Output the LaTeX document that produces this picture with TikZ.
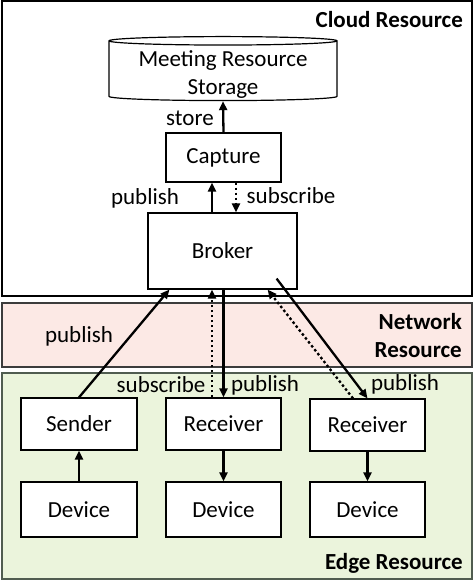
\documentclass[tikz,border=0pt]{standalone}
\usepackage{fontspec}
\setmainfont{Carlito}
\usetikzlibrary{shapes.geometric,arrows.meta,calc}

\tikzset{
  box/.style={draw, line width=1.2pt, fill=white, inner sep=0pt},
  flow/.style={line width=2.3pt, -{Triangle[length=9pt,width=8pt]}},
  sub/.style={flow, dash pattern=on 2.5pt off 2.5pt},
  lbl/.style={inner sep=0pt},
  area/.style={font=\fontsize{23}{28}\selectfont\bfseries, align=right, inner sep=0pt}
}

\begin{document}
\begin{tikzpicture}[x=1pt,y=-1pt,font=\fontsize{23}{28}\selectfont]
		\useasboundingbox (0,0) rectangle (474,581);

		%Resource areas
		\draw[line width=1.8pt] (2,1) rectangle (472,296);
		\draw[fill={rgb,255:red,252;green,233;blue,229}, draw={rgb,255:red,60;green,60;blue,60}, line width=1.2pt] (2,303) rectangle (472,367);
		\draw[fill={rgb,255:red,235;green,244;blue,220}, draw={rgb,255:red,80;green,92;blue,80}, line width=1.5pt] (2,373) rectangle (472,579);
		\node[area, anchor=east] (cloud) at (463,20) {Cloud Resource};
		\node[area, anchor=east] (net) at (462,336) {Network\\Resource};
		\node[area, anchor=east] (edge) at (463,563) {Edge Resource};

		%Cloud
		\node[box, cylinder, shape border rotate=90, aspect=0.05, minimum width=228pt, minimum height=64pt, align=center,
			label={[align=center, inner sep=0pt, yshift=-4pt]center:{Meeting Resource\\Storage}}] (store) at (223,71)
			{\phantom{Meeting Resource}\\\phantom{Storage}};
		\node[box, minimum width=115pt, minimum height=49pt] (capture) at (223.5,157.5) {Capture};
		\node[box, minimum width=149pt, minimum height=76pt] (broker) at (222.5,251) {Broker};

		%Edge
		\node[box, minimum width=116pt, minimum height=52pt] (sender) at (79,424) {Sender};
		\node[box, minimum width=115pt, minimum height=52pt] (recvA) at (223.5,424) {Receiver};
		\node[box, minimum width=115pt, minimum height=52pt] (recvB) at (367.5,425) {Receiver};
		\node[box, minimum width=116pt, minimum height=55pt] (devS) at (79,509.5) {Device};
		\node[box, minimum width=115pt, minimum height=55pt] (devA) at (223.5,509.5) {Device};
		\node[box, minimum width=115pt, minimum height=55pt] (devB) at (367.5,509.5) {Device};

		%connections
		\draw[flow] (capture.north) -- (store.south);
		\draw[flow] ($(broker.north)+(-10.5,0)$) -- ($(capture.south)+(-11.5,0)$);
		\draw[sub] ($(capture.south)+(12.5,0)$) -- ($(broker.north)+(13.5,0)$);
		\draw[flow] (sender.north) -- ($(broker.south west)+(22,0)$);
		\draw[sub] ($(recvA.north)+(-11.5,0)$) -- ($(broker.south)+(-10.5,0)$);
		\draw[flow] (recvA.north |- broker.south) -- (recvA.north);
		\draw[sub] ($(recvB.north)+(-14.5,0)$) -- ($(broker.south east)+(-30,0)$);
		\draw[flow] ($(broker.south east)+(-21,-11)$) -- (recvB.north);
		\draw[flow] (devS.north) -- (sender.south);
		\draw[flow] (recvA.south) -- (devA.north);
		\draw[flow] (recvB.south) -- (devB.north);

		%labels
		\node[lbl] (l_store) at (190,118) {store};
		\node[lbl] (l_pubC) at (145,198) {publish};
		\node[lbl] (l_subC) at (291,196) {subscribe};
		\node[lbl] (l_pubS) at (79,336) {publish};
		\node[lbl] (l_subA) at (161,385) {subscribe};
		\node[lbl] (l_pubA) at (265,385) {publish};
		\node[lbl] (l_pubB) at (405,384) {publish};
	\end{tikzpicture}
\end{document}
